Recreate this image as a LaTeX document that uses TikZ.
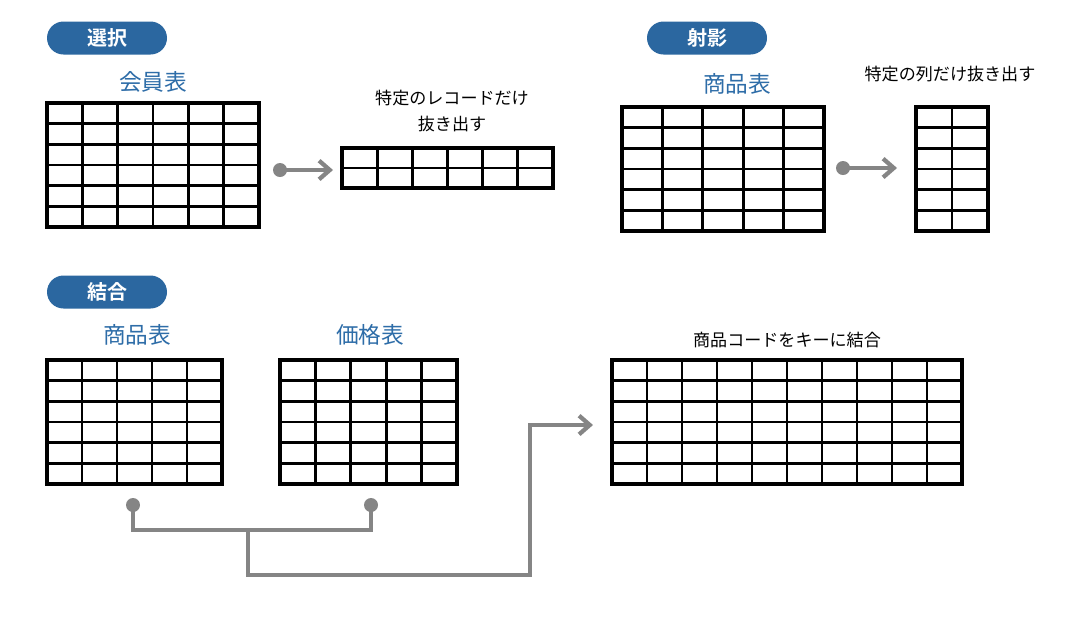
\documentclass[tikz,border=0pt]{standalone}
\usepackage{fontspec}
\setmainfont{Noto Sans CJK JP}
\newfontfamily\boldcjk{Noto Sans CJK JP Bold}
\usetikzlibrary{fit}
\definecolor{pillblue}{HTML}{2B67A0}
\definecolor{titleblue}{HTML}{2E6DA8}
\definecolor{arrowgray}{HTML}{858585}
\tikzset{
  pill/.style={fill=pillblue,rounded corners=16.5*0.75pt,minimum width=120*0.75pt,minimum height=33*0.75pt,text=white,font=\boldcjk\fontsize{15}{15}\selectfont,inner sep=0},
  ttl/.style={text=titleblue,font=\fontsize{17}{18}\selectfont,inner sep=0},
  note/.style={text=black,font=\fontsize{12.8}{19}\selectfont,inner sep=0,align=center},
  tblbox/.style={draw=black,line width=2.6pt,inner sep=0},
  gline/.style={draw=black,line width=2.2pt},
  conn/.style={draw=arrowgray,line width=3.2pt,line join=miter},
  dotn/.style={circle,fill=arrowgray,minimum size=14*0.75pt,inner sep=0},
  tip/.style={-{Straight Barb[length=8pt,width=14pt,line width=3.2pt]}}
}
\usetikzlibrary{arrows.meta}
\newcommand\mytable[7]{%
  \node[tblbox,fit={(#2,#3)(#4,#5)}] (#1) {};
  \pgfmathsetmacro\dx{(#4-#2)/#6}
  \pgfmathsetmacro\dy{(#5-#3)/#7}
  \foreach \i in {1,...,\numexpr#6-1\relax} {\draw[gline] (#2+\i*\dx,#3) -- (#2+\i*\dx,#5);}
  \foreach \j in {1,...,\numexpr#7-1\relax} {\draw[gline] (#2,#3+\j*\dy) -- (#4,#3+\j*\dy);}
}
\begin{document}
\begin{tikzpicture}[x=0.75pt,y=-0.75pt]
\useasboundingbox[fill=white] (0,0) rectangle (1074,626);
% pills
\node[pill] (p1) at (107,38) {選択};
\node[pill] (p2) at (707,38) {射影};
\node[pill] (p3) at (107,292) {結合};
% titles
\node[ttl] (t1) at (153,82) {会員表};
\node[ttl] (t2) at (737,84) {商品表};
\node[ttl] (t3) at (137,335) {商品表};
\node[ttl] (t4) at (370,335) {価格表};
\node[note] (n1) at (452,111) {特定のレコードだけ\\抜き出す};
\node[note] (n2) at (950,74) {特定の列だけ抜き出す};
\node[note] (n3) at (787,340) {商品コードをキーに結合};
% tables
\mytable{A}{47}{103}{259}{227}{6}{6}
\mytable{B}{342}{148}{553}{188}{6}{2}
\mytable{C}{622}{107}{824}{231}{5}{6}
\mytable{D}{916}{107}{988}{231}{2}{6}
\mytable{E}{47}{360}{222}{484}{5}{6}
\mytable{F}{280}{360}{457}{484}{5}{6}
\mytable{G}{612}{360}{962}{484}{10}{6}
% arrows
\node[dotn] (d1) at (280,170) {};
\coordinate (e1) at (333,170);
\draw[conn,tip] (d1.center) -- (e1);
\node[dotn] (d2) at (843,168) {};
\coordinate (e2) at (897,168);
\draw[conn,tip] (d2.center) -- (e2);
\node[dotn] (d3) at (133,505) {};
\node[dotn] (d4) at (371,505) {};
\coordinate (m) at (248,530);
\coordinate (e3) at (593,425);
\draw[conn] (d3.center) -- (133,530) -- (371,530) -- (d4.center);
\draw[conn,tip] (m) -- (248,575) -- (530,575) -- (530,425) -- (e3);
\end{tikzpicture}
\end{document}
